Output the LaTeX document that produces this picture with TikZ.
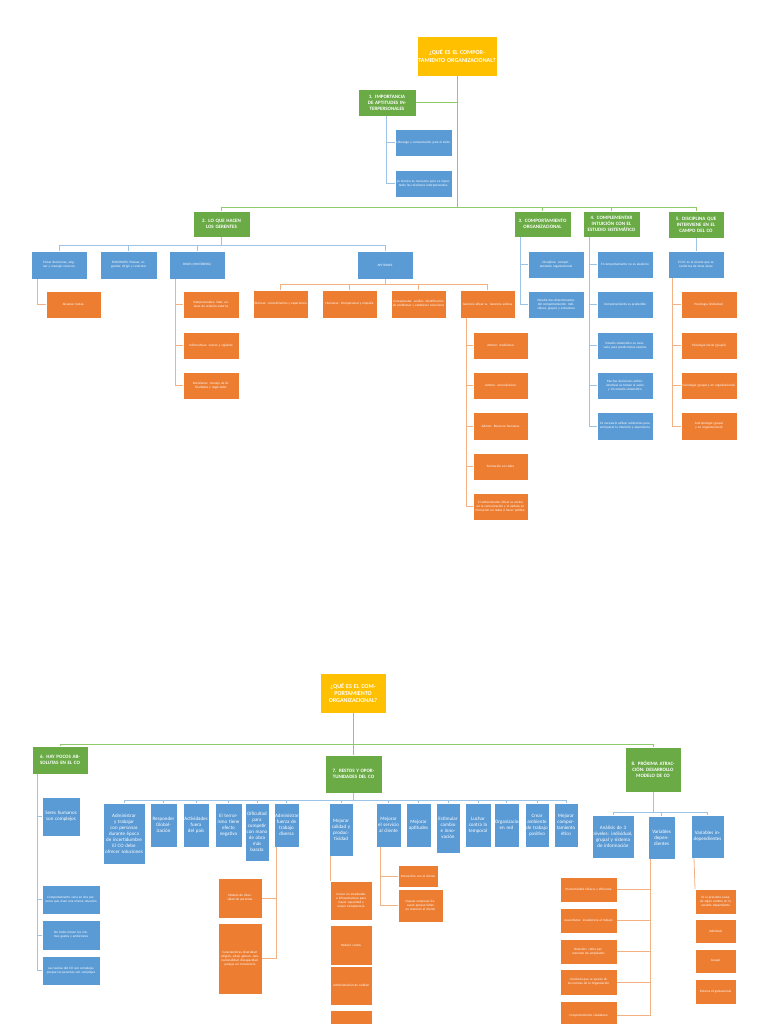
\documentclass[tikz,border=0pt]{standalone}
\usepackage{fontspec}
\setmainfont{Carlito}
\definecolor{cg}{HTML}{6AAB46}
\definecolor{cb}{HTML}{5B9BD5}
\definecolor{co}{HTML}{ED7D31}
\definecolor{cy}{HTML}{FFC000}
\definecolor{lg}{HTML}{8FCB6A}
\definecolor{lb}{HTML}{9DC3E6}
\definecolor{lo}{HTML}{F4B183}
\newcommand\bx[7]{\pgfmathsetmacro\bw{#4-#2}\pgfmathsetmacro\bh{#5-#3}\pgfmathsetmacro\tw{#4-#2-2}%
\node[#6,minimum width=\bw pt,minimum height=\bh pt,text width=\tw pt] (#1) at ({(#2+#4)/2},{(#3+#5)/2}) {#7};}
\tikzset{
 base/.style={draw=white,line width=0.4pt,inner sep=0.5pt,align=center,text=white,font=\fontsize{3.3}{4}\selectfont},
 gbox/.style={base,fill=cg,font=\fontsize{5}{6}\selectfont\bfseries},
 ybox/.style={base,fill=cy,font=\fontsize{6}{7.2}\selectfont\bfseries},
 bbox/.style={base,fill=cb},
 obox/.style={base,fill=co},
 bbig/.style={base,fill=cb,font=\fontsize{5}{6}\selectfont},
 gl/.style={draw=lg,line width=0.8pt},
 bl/.style={draw=lb,line width=0.8pt},
 ol/.style={draw=lo,line width=0.8pt},
}
\begin{document}
\begin{tikzpicture}[x=1pt,y=-1pt]
\useasboundingbox (0,0) rectangle (768,1024);
\fill[white] (0,0) rectangle (768,1024);
% ===== TOP =====
\bx{t1}{417}{36}{497}{76}{ybox}{¿QUÉ ES EL COMPORTAMIENTO ORGANIZACIONAL?}
\bx{n1}{358}{89}{416}{116}{gbox}{1. IMPORTANCIA DE APTITUDES INTERPERSONALES}
\bx{a1}{395}{129}{452}{156}{bbox}{Liderazgo y comunicación para el éxito.}
\bx{a2}{395}{170}{452}{197}{bbox}{Lo técnico es necesario pero es importante las relaciones interpersonales.}
\bx{n2}{193}{211}{250}{237}{gbox}{2. LO QUE HACEN LOS GERENTES}
\bx{n3}{514}{211}{571}{237}{gbox}{3. COMPORTAMIENTO ORGANIZACIONAL}
\bx{n4}{583}{211}{640}{237}{gbox}{4. COMPLEMENTAR INTUICIÓN CON EL ESTUDIO SISTEMÁTICO}
\bx{n5}{668}{211}{724}{238}{gbox}{5. DISCIPLINA QUE INTERVIENE EN EL CAMPO DEL CO}
\draw[gl] (t1.south) -- ++(0,131);
\draw[gl] (t1.south) |- (n1.east);
\foreach \n in {n2,n3,n4,n5}{\draw[gl] (t1.south) -- ++(0,131) -| (\n.north);}
\draw[bl] ([xshift=-1pt]n1.south) |- (a1.west);
\draw[bl] ([xshift=-1pt]n1.south) |- (a2.west);
% box 2 children
\bx{b1}{31}{251}{87}{279}{bbox}{Tomar decisiones, asignar y manejar recursos}
\bx{b2}{100}{251}{157}{279}{bbox}{FUNCIONES: Planear, organizar, dirigir y controlar}
\bx{b3}{169}{251}{225}{279}{bbox}{ROLES (MINTZBERG)}
\bx{b4}{357}{251}{413}{279}{bbox}{APTITUDES}
\foreach \n in {b1,b2,b3,b4}{\draw[bl] (n2.south) -- ++(0,8) -| (\n.north);}
\bx{c1}{46}{291}{101}{318}{obox}{Alcanzar metas.}
\draw[ol] ([xshift=-22pt]b1.south) |- (c1.west);
\bx{r1}{183}{291}{239}{318}{obox}{Interpersonales: líder, enlaces de relación externa}
\bx{r2}{183}{332}{239}{359}{obox}{Informativas: vocero y vigilante}
\bx{r3}{183}{372}{239}{399}{obox}{Decisiones: manejo de dificultades y negociador}
\foreach \n in {r1,r2,r3}{\draw[ol] ([xshift=-22pt]b3.south) |- (\n.west);}
\bx{p1}{253}{290}{308}{318}{obox}{Técnicas: conocimientos y experiencia}
\bx{p2}{322}{290}{377}{318}{obox}{Humanas: interpersonal y empatía}
\bx{p3}{391}{290}{446}{318}{obox}{Conceptuales: análisis, identificación de problemas y establecer soluciones}
\bx{p4}{460}{290}{515}{318}{obox}{Gerencia eficaz vs. Gerencia exitosa}
\foreach \n in {p1,p2,p3,p4}{\draw[ol] (b4.south) -- ++(0,5) -| (\n.north);}
\bx{g1}{473}{332}{528}{359}{obox}{Admon. tradicional}
\bx{g2}{473}{372}{528}{399}{obox}{Admon. comunicación}
\bx{g3}{473}{412}{528}{440}{obox}{Admon. Recursos humanos}
\bx{g4}{473}{453}{528}{480}{obox}{Formación en redes}
\bx{g5}{473}{493}{528}{520}{obox}{El administrador eficaz se centra en la comunicación y el exitoso en formación en redes o hacer política.}
\foreach \n in {g1,g2,g3,g4,g5}{\draw[ol] ([xshift=-21.5pt]p4.south) |- (\n.west);}
% box 3
\bx{d1}{528}{251}{584}{278}{bbox}{Disciplina: comportamiento organizacional}
\bx{d2}{528}{291}{584}{318}{bbox}{Estudia tres determinantes del comportamiento: individuos, grupos y estructura}
\foreach \n in {d1,d2}{\draw[bl] ([xshift=-22.5pt]n3.south) |- (\n.west);}
% box 4
\bx{e1}{597}{251}{653}{278}{bbox}{El comportamiento no es aleatorio}
\bx{e2}{597}{291}{653}{318}{bbox}{Comportamiento es predecible}
\bx{e3}{597}{332}{653}{359}{bbox}{Estudio sistemático es necesario para predicciones exactas}
\bx{e4}{597}{372}{653}{399}{bbox}{Muchas decisiones administrativas se toman al suelo y sin estudio sistemático}
\bx{e5}{597}{412}{653}{440}{bbox}{Es necesario utilizar evidencias para enriquecer la intuición y experiencia}
\foreach \n in {e1,e2,e3,e4,e5}{\draw[bl] ([xshift=-22.5pt]n4.south) |- (\n.west);}
% box 5
\bx{f0}{668}{251}{724}{278}{bbox}{El CO es la ciencia que se conforma de otras áreas}
\draw[bl] (n5.south) -- (f0.north);
\bx{f1}{681}{291}{737}{318}{obox}{Psicología (individuo)}
\bx{f2}{681}{332}{737}{359}{obox}{Psicología Social (grupal)}
\bx{f3}{681}{372}{737}{399}{obox}{Sociología (grupal y en organizacional)}
\bx{f4}{681}{412}{737}{440}{obox}{Antropología (grupal y en organizacional)}
\foreach \n in {f1,f2,f3,f4}{\draw[ol] ([xshift=-24pt]f0.south) |- (\n.west);}
% ===== BOTTOM =====
\bx{t2}{320}{673}{386}{713}{ybox}{¿QUÉ ES EL COMPORTAMIENTO ORGANIZACIONAL?}
\bx{m6}{32}{746}{88}{774}{gbox}{6. HAY POCOS ABSOLUTAS EN EL CO}
\bx{m7}{325}{755}{382}{793}{gbox}{7. RESTOS Y OPORTUNIDADES DEL CO}
\bx{m8}{625}{747}{681}{792}{gbox}{8. PRÓXIMA ATRACCIÓN: DESARROLLO MODELO DE CO}
\foreach \n in {m6,m7,m8}{\draw[gl] (t2.south) -- ++(0,31) -| (\n.north);}
% box 6
\bx{h1}{42}{797}{80}{836}{bbig}{Seres humanos son complejos}
\bx{h2}{42}{885}{100}{914}{bbox}{Comportamiento varía en dos personas que viven una misma situación}
\bx{h3}{42}{920}{100}{950}{bbox}{No todos tienen los mismos gustos y ambiciones}
\bx{h4}{42}{956}{100}{985}{bbox}{Las teorías del CO son complejas porque las personas son complejas}
\foreach \n in {h1,h2,h3,h4}{\draw[bl] ([xshift=-23pt]m6.south) |- (\n.west);}
% box 7
\bx{k1}{103}{803}{145}{864}{bbig}{Administrar y trabajar con personas durante época de incertidumbre El CO debe ofrecer soluciones}
\bx{k2}{150}{803}{177}{847}{bbig}{Responder Globalización}
\bx{k3}{183}{803}{209}{847}{bbig}{Actividades fuera del país}
\bx{k4}{215}{803}{242}{847}{bbig}{El terrorismo tiene efecto negativo}
\bx{k5}{245}{803}{269}{861}{bbig}{Dificultad para competir con mano de obra más barata}
\bx{k6}{274}{803}{299}{847}{bbig}{Administrar fuerza de trabajo diversa}
\bx{k7}{329}{803}{353}{856}{bbig}{Mejorar calidad y productividad}
\bx{k8}{376}{803}{401}{847}{bbig}{Mejorar el servicio al cliente}
\bx{k9}{406}{803}{431}{847}{bbig}{Mejorar aptitudes}
\bx{k10}{436}{803}{460}{853}{bbig}{Estimular cambio e innovación}
\bx{k11}{465}{803}{491}{847}{bbig}{Luchar contra la temporal}
\bx{k12}{494}{803}{519}{847}{bbig}{Organizaciones en red}
\bx{k13}{525}{803}{549}{847}{bbig}{Crear ambiente de trabajo positivo}
\bx{k14}{554}{803}{578}{847}{bbig}{Mejorar comportamiento ético}
\foreach \n in {k1,k2,k3,k4,k5,k6,k7,k8,k9,k10,k11,k12,k13,k14}{\draw[bl] (m7.south) -- ++(0,7) -| (\n.north);}
\bx{q1}{218}{878}{262}{918}{obox}{Modelo de diversidad de personas}
\bx{q2}{218}{923}{262}{994}{obox}{Características diversidad: religión, edad, género, raza, nacionalidad, discapacidad, parejas en convivencia}
\foreach \n in {q1,q2}{\draw[ol] ([xshift=-10.5pt]k6.south) |- (\n.east);}
\bx{s1}{330}{881}{372}{920}{obox}{Crecer en empleados e infraestructura para mayor capacidad y mayor competencia}
\bx{s2}{330}{925}{372}{965}{obox}{Reducir costos}
\bx{s3}{330}{966}{372}{1005}{obox}{Administración de calidad}
\bx{s4}{330}{1010}{372}{1040}{obox}{}
\draw[ol] ([xshift=-11pt]k7.south) -- ([xshift=-21pt]s1.north);
\bx{u1}{398}{865}{438}{887}{obox}{Interacción con el cliente}
\bx{u2}{398}{889}{443}{922}{obox}{Nuevas empresas fracasan porque fallan en atención al cliente}
\foreach \n in {u1,u2}{\draw[ol] ([xshift=-8.5pt]k8.south) |- (\n.west);}
% box 8
\bx{v1}{592}{815}{634}{858}{bbig}{Análisis de 3 niveles: individual, grupal y sistema de información}
\bx{v2}{648}{816}{675}{859}{bbig}{Variables dependientes}
\bx{v3}{691}{815}{724}{858}{bbig}{Variables independientes}
\foreach \n in {v1,v2,v3}{\draw[bl] (m8.south) -- ++(0,20) -| (\n.north);}
\bx{w1}{560}{877}{617}{902}{obox}{Productividad eficacia y eficiencia}
\bx{w2}{560}{908}{617}{933}{obox}{Ausentismo: inasistencia al trabajo}
\bx{w3}{560}{939}{617}{964}{obox}{Rotación: retiro permanente de empleados}
\bx{w4}{560}{969}{617}{995}{obox}{Conducta que se aparta de las normas de la Organización}
\bx{w5}{560}{1001}{617}{1030}{obox}{Comportamiento ciudadano}
\foreach \n in {w1,w2,w3,w4,w5}{\draw[ol] ([xshift=-11.5pt]v2.south) |- (\n.east);}
\bx{z1}{695}{889}{736}{914}{obox}{Es la presunta causa de algún cambio en la variable dependiente}
\bx{z2}{695}{919}{736}{943}{obox}{Individual}
\bx{z3}{695}{949}{736}{973}{obox}{Grupal}
\bx{z4}{695}{979}{736}{1004}{obox}{Sistema Organizacional}
\draw[ol] ([xshift=-13.5pt]v3.south) -- ([xshift=-20.5pt]z1.north);
\end{tikzpicture}
\end{document}
